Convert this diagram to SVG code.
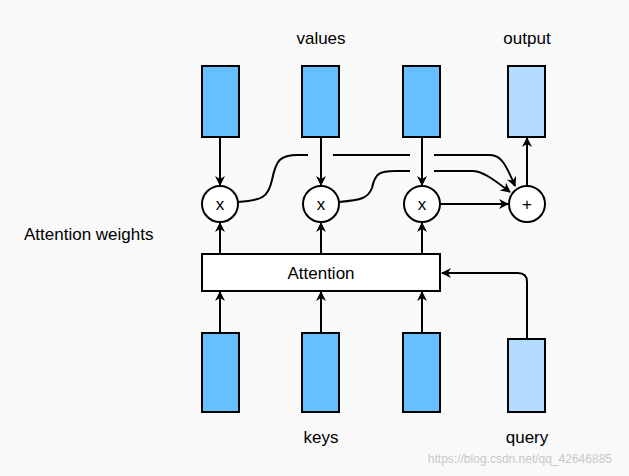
<svg xmlns="http://www.w3.org/2000/svg" width="629" height="476" viewBox="0 0 629 476">
<style>
.d{fill:#66bfff;stroke:#000;stroke-width:2}
.l{fill:#b3dcff;stroke:#000;stroke-width:2}
.c{fill:#fff;stroke:#000;stroke-width:2}
.e{fill:none;stroke:#000;stroke-width:2}
.a{marker-end:url(#ah)}
text{font-family:"Liberation Sans",Arial,sans-serif;font-size:17px;fill:#000}
</style>
<defs><marker id="ah" viewBox="0 0 10 10" refX="9" refY="5" markerWidth="5" markerHeight="5" orient="auto"><path d="M0,0 L10,5 L0,10 L3,5 z" fill="#000"/></marker></defs>
<rect width="629" height="476" fill="#f9f9f9"/>
<text x="321" y="44" text-anchor="middle">values</text>
<text x="527" y="44" text-anchor="middle">output</text>
<text x="24" y="240">Attention weights</text>
<text x="321" y="443" text-anchor="middle">keys</text>
<text x="527" y="443" text-anchor="middle">query</text>
<text x="612" y="463" text-anchor="end" style="font-size:12px;fill:#c8c8c8">https://blog.csdn.net/qq_42646885</text>
<g id="connectors">
<path class="e a" d="M220,137 V185"/>
<path class="e a" d="M321,137 V185"/>
<path class="e a" d="M422,137 V185"/>
<path class="e a" d="M527,186 V138"/>
<path class="e a" d="M220,254 V223"/>
<path class="e a" d="M321,254 V223"/>
<path class="e a" d="M422,254 V223"/>
<path class="e a" d="M220,333 V292"/>
<path class="e a" d="M321,333 V292"/>
<path class="e a" d="M422,333 V292"/>
<path class="e a" d="M440,204 H508"/>
<path class="e a" d="M527,339 V282 Q527,273 518,273 H442"/>
<path class="e" d="M238,202 C262,200 268,198 272,180 C276,160 280,155 298,155 H308"/>
<path class="e" d="M333,155 H410"/>
<path class="e a" d="M434,155 H490 C500,155 505,162 515,186"/>
<path class="e" d="M339,202 C362,200 368,198 372,188 C375,173 380,171 395,171 H410"/>
<path class="e a" d="M434,171 H472 C482,171 492,178 510,192"/>
</g>
<g id="v1"><rect class="d" x="202" y="66" width="37" height="71"/></g>
<g id="v2"><rect class="d" x="302" y="66" width="37" height="71"/></g>
<g id="v3"><rect class="d" x="403" y="66" width="37" height="71"/></g>
<g id="out"><rect class="l" x="508" y="66" width="37" height="71"/></g>
<g id="m1"><circle class="c" cx="220" cy="204" r="18"/><text x="220" y="210" text-anchor="middle">x</text></g>
<g id="m2"><circle class="c" cx="321" cy="204" r="18"/><text x="321" y="210" text-anchor="middle">x</text></g>
<g id="m3"><circle class="c" cx="422" cy="204" r="18"/><text x="422" y="210" text-anchor="middle">x</text></g>
<g id="plus"><circle class="c" cx="527" cy="204" r="18"/><text x="527" y="210" text-anchor="middle">+</text></g>
<g id="att"><rect class="c" x="202" y="254" width="238" height="37"/><text x="321" y="279" text-anchor="middle">Attention</text></g>
<g id="k1"><rect class="d" x="202" y="333" width="37" height="79"/></g>
<g id="k2"><rect class="d" x="302" y="333" width="37" height="79"/></g>
<g id="k3"><rect class="d" x="403" y="333" width="37" height="79"/></g>
<g id="q"><rect class="l" x="508" y="339" width="37" height="73"/></g>
</svg>
